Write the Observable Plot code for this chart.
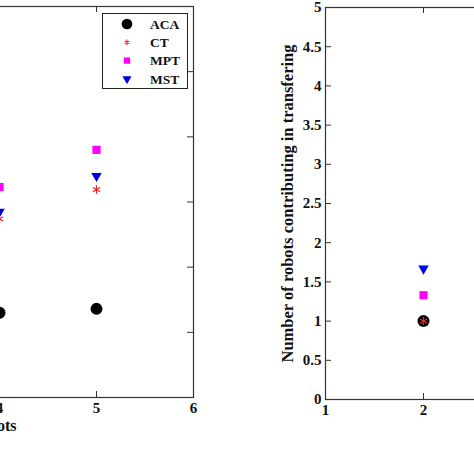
<!DOCTYPE html>
<html><head><meta charset="utf-8">
<script src="https://cdn.jsdelivr.net/npm/d3@7"></script>
<script src="https://cdn.jsdelivr.net/npm/@observablehq/plot@0.6"></script>
<style>
html,body{margin:0;padding:0;background:#fff;}
#wrap{position:relative;width:474px;height:474px;overflow:hidden;background:#fff;}
#wrap svg{max-width:none !important;}
#left,#right,#legend{position:absolute;top:0;}
#left{left:-352px;width:555px;}
#right{left:237px;width:588px;}
#legend{left:102px;top:13px;}
</style></head><body>
<div id="wrap"><div id="left"></div><div id="right"></div><div id="legend"></div></div>
<script>
// ---- data ----
const series = ["ACA", "CT", "MPT", "MST"];
const seriesColors = ["#000000", "#e0262b", "#ff00ff", "#0000e6"];
const seriesSymbols = ["circle", "asterisk", "square", "triangle"];

const leftX = [4, 5];
const leftACA = [1.30, 1.36];
const leftCT = [2.74, 3.19];
const leftMPT = [3.23, 3.80];
const leftMST = [2.85, 3.40];
const leftXTicks = [1, 2, 3, 4, 5, 6];
const leftXTickLabels = [4, 5, 6];   // only these are visible in the crop
const leftYTicks = [0, 1, 2, 3, 4, 5, 6];
const leftXLabel = "Number of robots";

const rightX = [2];
const rightACA = [1.0];
const rightCT = [1.0];
const rightMPT = [1.33];
const rightMST = [1.67];
const rightXTicks = [1, 2, 3, 4, 5, 6];
const rightYTicks = [0, 0.5, 1, 1.5, 2, 2.5, 3, 3.5, 4, 4.5, 5];
const rightYLabel = "Number of robots contributing in transfering";

// ---- helpers ----
const FONT = "'Liberation Serif', 'Times New Roman', serif";
const frameColor = "#333";

function rows(xs, lists) {
  const out = [];
  xs.forEach((x, i) => lists.forEach((vals, s) => out.push({x, y: vals[i], s: series[s]})));
  return out;
}
function dotMarks(data) {
  const sizes = {ACA: 6, CT: 4.0, MPT: 4.6, MST: 3.9};
  return series.map((name, k) => {
    const d = data.filter(r => r.s === name);
    const opts = {x: "x", y: "y", symbol: seriesSymbols[k], r: sizes[name]};
    if (name === "CT") { opts.stroke = seriesColors[k]; opts.strokeWidth = 1.2; opts.fill = "none"; }
    else { opts.fill = seriesColors[k]; opts.stroke = "none"; }
    if (name === "MST") opts.rotate = 180;
    return Plot.dot(d, opts);
  });
}
function tickMarks(xt, yt, plotW, plotH, len) {
  return [
    Plot.tickX(xt, {x: d => d, insetTop: plotH - len, stroke: frameColor}),
    Plot.tickX(xt, {x: d => d, insetBottom: plotH - len, stroke: frameColor}),
    Plot.tickY(yt, {y: d => d, insetLeft: plotW - len, stroke: frameColor}),
    Plot.tickY(yt, {y: d => d, insetRight: plotW - len, stroke: frameColor})
  ];
}

// ---- left panel ----
{
  const mL = 60, mR = 10, mT = 6, mB = 77;
  const plotW = 485, plotH = 474 - mT - mB;
  const data = rows(leftX, [leftACA, leftCT, leftMPT, leftMST]);
  const chart = Plot.plot({
    width: mL + plotW + mR, height: 474,
    marginLeft: mL, marginRight: mR, marginTop: mT, marginBottom: mB,
    style: {fontFamily: FONT, fontWeight: "bold", fontSize: "15px", color: "#111", background: "white"},
    x: {domain: [1, 6]},
    y: {domain: [0, 6], axis: null},
    marks: [
      ...tickMarks(leftXTicks, leftYTicks, plotW, plotH, 6),
      Plot.frame({stroke: frameColor, strokeWidth: 1.2}),
      Plot.axisX(leftXTickLabels, {anchor: "bottom", tickSize: 0, tickPadding: 5, fontSize: 15, label: null}),
      Plot.text([leftXLabel], {text: d => d, frameAnchor: "bottom", textAnchor: "middle", lineAnchor: "middle",
        dx: 5, dy: 28, fontSize: 16, fontWeight: "bold", fill: "#111"}),
      ...dotMarks(data)
    ]
  });
  document.getElementById("left").appendChild(chart);
}

// ---- right panel ----
{
  const mL = 88, mR = 10, mT = 7, mB = 75;
  const plotW = 490, plotH = 474 - mT - mB;
  const data = rows(rightX, [rightACA, rightCT, rightMPT, rightMST]);
  const chart = Plot.plot({
    width: mL + plotW + mR, height: 474,
    marginLeft: mL, marginRight: mR, marginTop: mT, marginBottom: mB,
    style: {fontFamily: FONT, fontWeight: "bold", fontSize: "15px", color: "#111", background: "white"},
    x: {domain: [1, 6]},
    y: {domain: [0, 5]},
    marks: [
      ...tickMarks(rightXTicks, rightYTicks, plotW, plotH, 6),
      Plot.frame({stroke: frameColor, strokeWidth: 1.2}),
      Plot.axisX(rightXTicks, {anchor: "bottom", tickSize: 0, tickPadding: 5, fontSize: 15, label: null}),
      Plot.axisY(rightYTicks, {anchor: "left", tickSize: 0, tickPadding: 4, fontSize: 15,
        tickFormat: d => String(d), label: null}),
      Plot.text([rightYLabel], {text: d => d, frameAnchor: "left", textAnchor: "middle", lineAnchor: "middle",
        rotate: -90, dx: -38, fontSize: 16.5, fontWeight: "bold", fill: "#111"}),
      ...dotMarks(data)
    ]
  });
  document.getElementById("right").appendChild(chart);
}

// ---- legend (HTML overlay) ----
{
  const W = 86, H = 76;
  const svg = d3.select("#legend").append("svg")
    .attr("width", W).attr("height", H)
    .style("font-family", FONT).style("font-weight", "bold").style("font-size", "13.5px");
  svg.append("rect").attr("x", 0.5).attr("y", 0.5).attr("width", W - 1).attr("height", H - 1)
    .attr("fill", "white").attr("stroke", "#222").attr("stroke-width", 1);
  const sym = {circle: d3.symbolCircle, asterisk: d3.symbolAsterisk, square: d3.symbolSquare, triangle: d3.symbolTriangle};
  const sizes = [90, 22, 40, 36];
  series.forEach((name, k) => {
    const cy = 11 + k * 18.3;
    const g = svg.append("g").attr("transform", `translate(25,${cy})` + (name === "MST" ? " rotate(180)" : ""));
    const p = g.append("path").attr("d", d3.symbol(sym[seriesSymbols[k]], sizes[k])());
    if (name === "CT") p.attr("fill", "none").attr("stroke", seriesColors[k]).attr("stroke-width", 1.1);
    else p.attr("fill", seriesColors[k]);
    svg.append("text").attr("x", 48).attr("y", cy).attr("dy", "0.35em").attr("fill", "#111").text(name);
  });
}
</script>
</body></html>
